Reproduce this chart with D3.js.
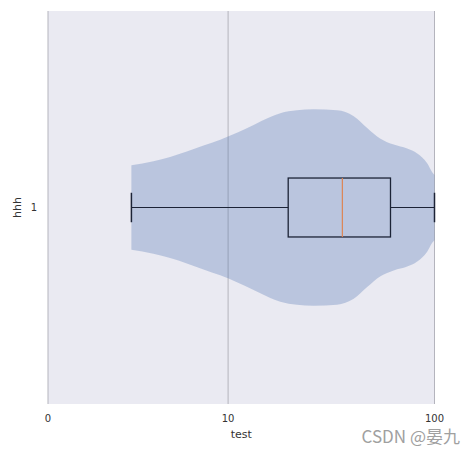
<!DOCTYPE html>
<html>
<head>
<meta charset="utf-8">
<script src="https://cdn.jsdelivr.net/npm/d3@7"></script>
<style>
  html, body { margin: 0; padding: 0; background: #ffffff; }
  svg { display: block; }
</style>
</head>
<body>
<svg id="chart" width="474" height="452"></svg>
<script>
// ---- data ----
const categories = ["1"];
const categoryPositions = [1];
const violinValues  = [2.5, 3.61, 4.64, 5.87, 7.33, 9.07, 11.14, 13.6, 16.53, 18.55, 22.43, 27.03, 35.0, 42.0, 48.6, 56.1, 64.7, 74.7, 83.2, 92.5, 97.6, 100];
const violinDensity = [0.43, 0.47, 0.515, 0.57, 0.63, 0.69, 0.76, 0.84, 0.92, 0.96, 0.99, 1.0, 0.99, 0.93, 0.81, 0.70, 0.64, 0.60, 0.55, 0.45, 0.36, 0.33];
const whiskerLow = [2.5];
const q1 = [20.3];
const median = [37.1];
const q3 = [62.5];
const whiskerHigh = [100];
const xTickValues = [0, 10, 100];
const xTickLabels = ["0", "10", "100"];
const xLabel = "test";
const yLabel = "hhh";
const watermark = "CSDN @晏九";

// ---- layout ----
const svg = d3.select("#chart");
const pL = 48, pR = 434.5, pT = 11, pB = 404;
const x = d3.scaleSymlog().constant(1.8).domain([0, 100]).range([pL, pR]);
const y = d3.scaleLinear().domain([0.5, 1.5]).range([pB, pT]);
const violinHalf = 0.25, boxHalf = 0.075, capHalf = 0.0375;

svg.append("rect").attr("x", pL).attr("y", pT)
  .attr("width", pR - pL).attr("height", pB - pT)
  .attr("fill", "#EAEAF2");

// grid lines
svg.append("g").selectAll("line").data(xTickValues).join("line")
  .attr("x1", d => x(d)).attr("x2", d => x(d))
  .attr("y1", pT).attr("y2", pB)
  .attr("stroke", "#b4b4bd").attr("stroke-width", 1);

// violin
categoryPositions.forEach(pos => {
  const pts = violinValues.map((v, i) => ({ v, d: violinDensity[i] }));
  const area = d3.area()
    .x(p => x(p.v))
    .y0(p => y(pos - p.d * violinHalf))
    .y1(p => y(pos + p.d * violinHalf))
    .curve(d3.curveMonotoneX);
  svg.append("path").attr("d", area(pts))
    .attr("fill", "#4C72B0").attr("fill-opacity", 0.3);
});

// boxplot
const stroke = "#1c2336";
categoryPositions.forEach((pos, i) => {
  const g = svg.append("g");
  g.append("line").attr("x1", x(whiskerLow[i])).attr("x2", x(q1[i]))
    .attr("y1", y(pos)).attr("y2", y(pos)).attr("stroke", stroke).attr("stroke-width", 1.2);
  g.append("line").attr("x1", x(q3[i])).attr("x2", x(whiskerHigh[i]))
    .attr("y1", y(pos)).attr("y2", y(pos)).attr("stroke", stroke).attr("stroke-width", 1.2);
  [whiskerLow[i], whiskerHigh[i]].forEach(v => {
    g.append("line").attr("x1", x(v)).attr("x2", x(v))
      .attr("y1", y(pos + capHalf)).attr("y2", y(pos - capHalf))
      .attr("stroke", stroke).attr("stroke-width", 1.5);
  });
  g.append("rect").attr("x", x(q1[i])).attr("y", y(pos + boxHalf))
    .attr("width", x(q3[i]) - x(q1[i])).attr("height", y(pos - boxHalf) - y(pos + boxHalf))
    .attr("fill", "none").attr("stroke", stroke).attr("stroke-width", 1.3);
  g.append("line").attr("x1", x(median[i])).attr("x2", x(median[i]))
    .attr("y1", y(pos + boxHalf)).attr("y2", y(pos - boxHalf))
    .attr("stroke", "#DD8452").attr("stroke-width", 1.2);
});

// x axis tick labels
svg.append("g").selectAll("text").data(xTickValues).join("text")
  .attr("x", d => x(d)).attr("y", 422)
  .attr("text-anchor", "middle")
  .attr("font-family", "DejaVu Sans").attr("font-size", 10)
  .attr("fill", "#333333")
  .text((d, i) => xTickLabels[i]);

svg.append("text").attr("x", (pL + pR) / 2).attr("y", 438)
  .attr("text-anchor", "middle")
  .attr("font-family", "DejaVu Sans").attr("font-size", 11)
  .attr("fill", "#333333").text(xLabel);

// y tick labels
svg.append("g").selectAll("text").data(categories).join("text")
  .attr("x", 37).attr("y", (d, i) => y(categoryPositions[i]) + 3.5)
  .attr("text-anchor", "end")
  .attr("font-family", "DejaVu Sans").attr("font-size", 10)
  .attr("fill", "#333333").text(d => d);

svg.append("text")
  .attr("transform", `translate(21,${y(1)}) rotate(-90)`)
  .attr("text-anchor", "middle")
  .attr("font-family", "DejaVu Sans").attr("font-size", 11)
  .attr("fill", "#333333").text(yLabel);

// watermark
svg.append("text").attr("x", 460).attr("y", 443)
  .attr("text-anchor", "end")
  .attr("font-family", "'Noto Sans CJK SC', 'Noto Sans', sans-serif").attr("font-size", 17)
  .attr("fill", "#a0a0a0").text(watermark);
</script>
</body>
</html>
